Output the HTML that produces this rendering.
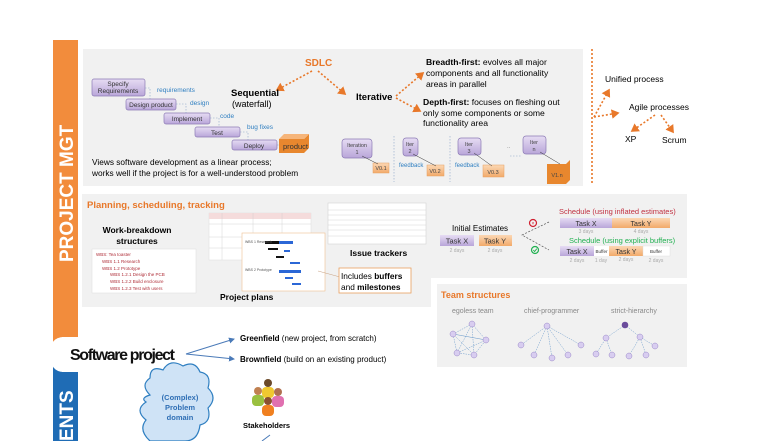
<!DOCTYPE html>
<html><head><meta charset="utf-8"><style>
body{margin:0;background:#fff;}
svg{display:block;font-family:"Liberation Sans",sans-serif;}
</style></head><body>
<svg width="784" height="441" viewBox="0 0 784 441" xmlns="http://www.w3.org/2000/svg">
<defs>
<linearGradient id="pu" x1="0" y1="0" x2="0" y2="1"><stop offset="0" stop-color="#e6dcf3"/><stop offset="1" stop-color="#b9a6d9"/></linearGradient>
<linearGradient id="or" x1="0" y1="0" x2="0" y2="1"><stop offset="0" stop-color="#fbd7b4"/><stop offset="1" stop-color="#f2aa6a"/></linearGradient>
<marker id="ao" markerWidth="6" markerHeight="6" refX="4" refY="3" orient="auto"><path d="M0,0 L5,3 L0,6 z" fill="#e8782a"/></marker>
<marker id="ab" markerWidth="7" markerHeight="6" refX="5" refY="3" orient="auto"><path d="M0,0 L6,3 L0,6 z" fill="#4a7ab8"/></marker>
</defs>
<!-- side bars -->
<rect x="53" y="40" width="25" height="316" fill="#f28c3c"/>
<rect x="53" y="356" width="25" height="85" fill="#1f6cb5"/>
<text transform="translate(73,262) rotate(-90)" fill="#fff" font-size="19" font-weight="bold">PROJECT MGT</text>
<text transform="translate(73,441) rotate(-90)" fill="#fff" font-size="19" font-weight="bold">ENTS</text>
<path d="M78,337 L64,337 Q50,337 50,354 Q50,372 64,372 L78,372 z" fill="#fff"/>
<rect x="62" y="337" width="120" height="35" fill="#fff"/>

<!-- top panel -->
<rect x="83" y="49" width="500" height="137" fill="#f1f1f1"/>
<text x="305" y="66" fill="#e8782a" font-size="10" font-weight="bold">SDLC</text>
<path d="M312,71 L277,90" stroke="#e8782a" stroke-width="1.6" stroke-dasharray="2,2" fill="none" marker-end="url(#ao)"/>
<path d="M318,71 L345,94" stroke="#e8782a" stroke-width="1.6" stroke-dasharray="2,2" fill="none" marker-end="url(#ao)"/>
<text x="231" y="96" font-size="9.5" font-weight="bold">Sequential</text>
<text x="232" y="107" font-size="9">(waterfall)</text>
<text x="356" y="100" font-size="9.5" font-weight="bold">Iterative</text>
<path d="M396,96 L423,73" stroke="#e8782a" stroke-width="1.6" stroke-dasharray="2,2" fill="none" marker-end="url(#ao)"/>
<path d="M396,98 L420,111" stroke="#e8782a" stroke-width="1.6" stroke-dasharray="2,2" fill="none" marker-end="url(#ao)"/>
<g font-size="8.6">
<text x="426" y="65"><tspan font-weight="bold">Breadth-first:</tspan> evolves all major</text>
<text x="426" y="76">components and all functionality</text>
<text x="426" y="87">areas in parallel</text>
<text x="423" y="105"><tspan font-weight="bold">Depth-first:</tspan> focuses on fleshing out</text>
<text x="423" y="116">only some components or some</text>
<text x="423" y="126">functionality area</text>
</g>
<!-- waterfall -->
<g stroke="#8c7bb5" stroke-width="0.7" fill="url(#pu)">
<rect x="92" y="79" width="53" height="17" rx="2"/>
<rect x="126" y="99" width="50" height="11" rx="2"/>
<rect x="164" y="113" width="46" height="11" rx="2"/>
<rect x="195" y="127" width="45" height="10" rx="2"/>
<rect x="232" y="140" width="45" height="10" rx="2"/>
</g>
<g font-size="6.5" text-anchor="middle" fill="#333">
<text x="118" y="86">Specify</text><text x="118" y="93">Requirements</text>
<text x="151" y="107">Design product</text>
<text x="187" y="121">Implement</text>
<text x="217" y="135">Test</text>
<text x="254" y="148">Deploy</text>
</g>
<g stroke="#8aa3c8" stroke-width="0.6" stroke-dasharray="1.5,1.5" fill="none">
<path d="M145,88 L150,88 L150,99"/><path d="M176,104 L186,104 L186,113"/><path d="M210,118 L219,118 L219,127"/><path d="M240,132 L248,132 L248,140"/><path d="M277,145 L280,145"/>
</g>
<g font-size="6.5" fill="#2f7fc1">
<text x="157" y="92">requirements</text><text x="190" y="105">design</text><text x="220" y="118">code</text><text x="247" y="129">bug fixes</text>
</g>
<path d="M279,139 L304,139 L309,134 L309,148 L304,153 L279,153 z" fill="#e8872e"/>
<path d="M279,139 L284,134 L309,134 L304,139 z" fill="#f6b57a"/>
<text x="283" y="149" font-size="7.5" fill="#333">product</text>
<text x="92" y="165" font-size="8.3">Views software development as a linear process;</text>
<text x="92" y="176" font-size="8.3">works well if the project is for a well-understood problem</text>
<!-- iterations -->
<g stroke="#8c7bb5" stroke-width="0.7" fill="url(#pu)">
<rect x="342" y="139" width="30" height="19" rx="3"/>
<rect x="403" y="138" width="15" height="18" rx="3"/>
<rect x="458" y="138" width="23" height="17" rx="3"/>
<rect x="523" y="136" width="23" height="18" rx="3"/>
</g>
<g font-size="5.5" text-anchor="middle" fill="#444">
<text x="357" y="147">Iteration</text><text x="357" y="154">1</text>
<text x="410" y="146">Iter</text><text x="410" y="153">2</text>
<text x="469" y="146">Iter</text><text x="469" y="153">3</text>
<text x="534" y="144">Iter</text><text x="534" y="151">n</text>
</g>
<g fill="url(#or)" stroke="#e8a060" stroke-width="0.5">
<rect x="373" y="163" width="16" height="10"/><rect x="427" y="165" width="17" height="11"/><rect x="483" y="165" width="21" height="12"/>
</g>
<path d="M547,164 L566,164 L570,160 L570,180 L566,184 L547,184 z" fill="#e8872e"/>
<g font-size="5.5" text-anchor="middle" fill="#444">
<text x="381" y="170">V0.1</text><text x="435" y="173">V0.2</text><text x="493" y="174">V0.3</text><text x="557" y="177">V1.n</text>
</g>
<g stroke="#333" stroke-width="0.5"><path d="M362,156 L378,164"/><path d="M413,154 L436,166"/><path d="M474,153 L492,166"/><path d="M540,152 L560,164"/></g>
<g stroke="#8aa3c8" stroke-width="0.6" stroke-dasharray="1.5,1.5" fill="none"><path d="M394,136 L394,182"/><path d="M450,136 L450,182"/><path d="M510,156 L521,156"/></g>
<g font-size="6" fill="#2f7fc1"><text x="399" y="167">feedback</text><text x="455" y="167">feedback</text></g>
<text x="507" y="148" font-size="6" fill="#888">..</text>
<!-- right side -->
<path d="M592,49 L592,184" stroke="#e8782a" stroke-width="1.6" stroke-dasharray="2,2"/>
<path d="M594,117 L609,90" stroke="#e8782a" stroke-width="1.6" stroke-dasharray="2,2" fill="none" marker-end="url(#ao)"/>
<path d="M594,117 L618,113" stroke="#e8782a" stroke-width="1.6" stroke-dasharray="2,2" fill="none" marker-end="url(#ao)"/>
<path d="M655,115 L632,131" stroke="#e8782a" stroke-width="1.6" stroke-dasharray="2,2" fill="none" marker-end="url(#ao)"/>
<path d="M661,115 L673,132" stroke="#e8782a" stroke-width="1.6" stroke-dasharray="2,2" fill="none" marker-end="url(#ao)"/>
<g font-size="8.5"><text x="605" y="82">Unified process</text><text x="629" y="110">Agile processes</text><text x="625" y="142">XP</text><text x="662" y="143">Scrum</text></g>

<!-- panel 2 -->
<path d="M82,194 L687,194 L687,278 L431,278 L431,307 L82,307 z" fill="#f1f1f1"/>
<text x="87" y="208" font-size="9.5" font-weight="bold" fill="#e8782a">Planning, scheduling, tracking</text>
<text x="137" y="233" font-size="8.5" font-weight="bold" text-anchor="middle">Work-breakdown</text>
<text x="137" y="244" font-size="8.5" font-weight="bold" text-anchor="middle">structures</text>
<rect x="92" y="249" width="104" height="44" fill="#fff" stroke="#ddd" stroke-width="0.5"/>
<g font-size="4.5" fill="#b0303a"><text x="96" y="256">WBS: Tea toaster</text><text x="102" y="263">WBS 1.1 Research</text><text x="102" y="270">WBS 1.2 Prototype</text><text x="110" y="276">WBS 1.2.1 Design the PCB</text><text x="110" y="283">WBS 1.2.2 Build enclosure</text><text x="110" y="290">WBS 1.2.3 Test with users</text></g>
<rect x="209" y="213" width="102" height="47" fill="#fff" stroke="#ddd" stroke-width="0.5"/>
<rect x="209" y="213" width="102" height="6" fill="#f5dcdc"/>
<g stroke="#ccc" stroke-width="0.4"><path d="M209,224 H311 M209,237 H311 M209,248 H311 M222,213 V260 M253,213 V260 M282,213 V260"/></g>
<rect x="242" y="233" width="83" height="58" fill="#fff" stroke="#f0c090" stroke-width="0.6"/>
<g fill="#2b67d6"><rect x="279" y="241" width="14" height="3"/><rect x="279" y="270" width="22" height="3"/><rect x="284" y="250" width="6" height="2"/><rect x="290" y="262" width="10" height="2"/><rect x="285" y="277" width="8" height="2"/><rect x="292" y="283" width="9" height="2"/></g>
<g fill="#111"><rect x="265" y="241" width="14" height="3"/><rect x="268" y="248" width="10" height="2"/><rect x="276" y="256" width="8" height="2"/></g>
<g font-size="3.5" fill="#555"><text x="245" y="243">WBS 1 Research</text><text x="245" y="271">WBS 2 Prototype</text></g>
<text x="220" y="300" font-size="8.5" font-weight="bold">Project plans</text>
<rect x="328" y="203" width="98" height="41" fill="#fff" stroke="#ccc" stroke-width="0.5"/>
<g stroke="#ccc" stroke-width="0.4"><path d="M328,210 H426 M328,215 H426 M328,220 H426 M328,225 H426 M328,230 H426 M328,236 H426"/></g>
<text x="350" y="256" font-size="8.5" font-weight="bold">Issue trackers</text>
<path d="M318,271 L340,277" stroke="#c8a080" stroke-width="0.5"/>
<rect x="339" y="268" width="72" height="25" fill="#fff" stroke="#e8a060" stroke-width="0.8"/>
<text x="341" y="279" font-size="8.3">Includes <tspan font-weight="bold">buffers</tspan></text>
<text x="341" y="290" font-size="8.3">and <tspan font-weight="bold">milestones</tspan></text>
<!-- schedule -->
<text x="452" y="231" font-size="8">Initial Estimates</text>
<rect x="440" y="235" width="34" height="11" fill="url(#pu)"/><rect x="479" y="235" width="33" height="11" fill="url(#or)"/>
<g font-size="7.5" text-anchor="middle" fill="#333"><text x="457" y="243.5">Task X</text><text x="495" y="243.5">Task Y</text></g>
<g font-size="5" fill="#aaa" text-anchor="middle"><text x="457" y="252">2 days</text><text x="495" y="252">2 days</text></g>
<path d="M549,222 L522,235 L549,250" stroke="#555" stroke-width="0.7" stroke-dasharray="2,1.5" fill="none"/>
<circle cx="533" cy="223" r="3.5" fill="none" stroke="#d02030" stroke-width="1.2"/><text x="533" y="225" font-size="5" text-anchor="middle" fill="#d02030">×</text>
<circle cx="535" cy="250" r="3.5" fill="none" stroke="#20b050" stroke-width="1.2"/><path d="M533.3,250 L534.6,251.5 L536.8,248.7" stroke="#20b050" fill="none" stroke-width="0.9"/>
<text x="559" y="214" font-size="7.5" fill="#c03040">Schedule (using inflated estimates)</text>
<rect x="560" y="218" width="52" height="10" fill="url(#pu)"/><rect x="612" y="218" width="58" height="10" fill="url(#or)"/>
<g font-size="7" text-anchor="middle" fill="#333"><text x="586" y="226">Task X</text><text x="641" y="226">Task Y</text></g>
<g font-size="5" fill="#aaa" text-anchor="middle"><text x="586" y="233">3 days</text><text x="641" y="233">4 days</text></g>
<text x="569" y="243" font-size="7.5" fill="#20b050">Schedule (using explicit buffers)</text>
<rect x="560" y="246" width="34" height="10" fill="url(#pu)"/><rect x="594" y="246" width="15" height="10" fill="#fff"/><rect x="609" y="246" width="34" height="10" fill="url(#or)"/><rect x="643" y="246" width="27" height="10" fill="#fff" stroke="#ddd" stroke-width="0.4"/>
<g font-size="7" text-anchor="middle" fill="#333"><text x="577" y="254">Task X</text><text x="626" y="254">Task Y</text></g>
<g font-size="4.5" text-anchor="middle" fill="#333"><text x="601.5" y="253">Buffer</text><text x="656" y="253">Buffer</text></g>
<g font-size="5" fill="#aaa" text-anchor="middle"><text x="577" y="262">2 days</text><text x="601" y="262">1 day</text><text x="626" y="261">2 days</text><text x="656" y="262">2 days</text></g>
<!-- team -->
<rect x="437" y="284" width="250" height="83" fill="#f1f1f1"/>
<text x="441" y="298" font-size="9" font-weight="bold" fill="#e8782a">Team structures</text>
<g font-size="7" fill="#888"><text x="452" y="313">egoless team</text><text x="524" y="313">chief-programmer</text><text x="611" y="313">strict-hierarchy</text></g>
<g stroke="#6a9acb" stroke-width="0.5" stroke-dasharray="1.5,1" fill="none">
<path d="M472,324 L453,334 L486,340 L472,324 L457,353 L474,355 L486,340 L453,334 L474,355 M472,324 L474,355 M453,334 L457,353 L486,340"/>
<path d="M547,326 L521,345 M547,326 L534,355 M547,326 L552,358 M547,326 L568,355 M547,326 L581,345"/>
<path d="M625,325 L606,338 L596,354 M606,338 L612,355 M625,325 L640,337 L629,356 M640,337 L646,355 M640,337 L655,346"/>
</g>
<g fill="#d8cdf0" stroke="#9a88c8" stroke-width="0.5">
<circle cx="472" cy="324" r="3"/><circle cx="453" cy="334" r="3"/><circle cx="486" cy="340" r="3"/><circle cx="457" cy="353" r="3"/><circle cx="474" cy="355" r="3"/>
<circle cx="547" cy="326" r="3"/><circle cx="521" cy="345" r="3"/><circle cx="534" cy="355" r="3"/><circle cx="552" cy="358" r="3"/><circle cx="568" cy="355" r="3"/><circle cx="581" cy="345" r="3"/>
<circle cx="606" cy="338" r="3"/><circle cx="596" cy="354" r="3"/><circle cx="612" cy="355" r="3"/><circle cx="640" cy="337" r="3"/><circle cx="629" cy="356" r="3"/><circle cx="646" cy="355" r="3"/><circle cx="655" cy="346" r="3"/>
</g>
<circle cx="625" cy="325" r="3.3" fill="#6a4c9c"/>

<!-- software project -->
<text x="70" y="360" font-size="16" font-weight="bold" fill="#111" textLength="105">Software project</text>
<path d="M186,354 L234,339" stroke="#4a7ab8" stroke-width="1" fill="none" marker-end="url(#ab)"/>
<path d="M186,354 L234,359" stroke="#4a7ab8" stroke-width="1" fill="none" marker-end="url(#ab)"/>
<text x="240" y="341" font-size="8"><tspan font-weight="bold">Greenfield</tspan> (new project, from scratch)</text>
<text x="240" y="362" font-size="8"><tspan font-weight="bold">Brownfield</tspan> (build on an existing product)</text>
<!-- cloud -->
<path d="M150,395 Q140,385 150,378 Q150,365 163,370 Q170,358 183,366 Q195,360 200,372 Q212,374 208,388 Q218,398 208,408 Q212,422 200,425 Q198,441 185,441 L150,441 Q138,430 146,420 Q134,410 146,402 Q140,398 150,395 z" fill="#cfe3f6" stroke="#2f7fc1" stroke-width="1.2"/>
<g font-size="7.5" font-weight="bold" fill="#2f6fb5" text-anchor="middle"><text x="180" y="400">(Complex)</text><text x="180" y="410">Problem</text><text x="180" y="420">domain</text></g>
<!-- stakeholders -->
<circle cx="268" cy="383" r="4" fill="#6b4a2a"/><rect x="262" y="387" width="12" height="11" rx="4" fill="#f0c830"/>
<circle cx="258" cy="391" r="4" fill="#c08050"/><rect x="252" y="395" width="12" height="11" rx="4" fill="#9ac040"/>
<circle cx="278" cy="392" r="4" fill="#b07050"/><rect x="272" y="396" width="12" height="11" rx="4" fill="#e070b0"/>
<circle cx="268" cy="401" r="4" fill="#8a5030"/><rect x="262" y="405" width="12" height="11" rx="4" fill="#f08020"/>
<text x="243" y="428" font-size="7.5" font-weight="bold">Stakeholders</text>
<path d="M270,435 L262,441" stroke="#4a7ab8" stroke-width="1"/>
</svg>
</body></html>
